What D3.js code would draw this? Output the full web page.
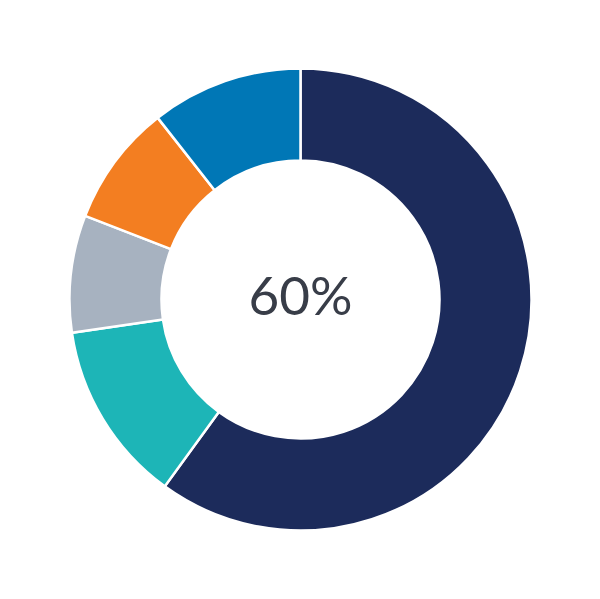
<!DOCTYPE html>
<html><head><meta charset="utf-8">
<script src="https://cdn.jsdelivr.net/npm/d3@7"></script>
<style>html,body{margin:0;padding:0;background:#fff;}</style>
</head><body>
<svg id="chart" width="600" height="599"></svg>
<script>
const categories = ["Navy", "Teal", "Gray", "Orange", "Blue"];
const values = [60, 12.7, 8.2, 8.5, 10.6];
const colors = ["#1c2b5b", "#1db5b7", "#a7b2c0", "#f37e21", "#0077b6"];
const centerLabel = "60%";

const svg = d3.select("#chart");
const g = svg.append("g").attr("transform", "translate(300.5,299.5)");
const pie = d3.pie().sort(null).value(d => d.v);
const arc = d3.arc().innerRadius(139).outerRadius(231);
const data = categories.map((c, i) => ({c, v: values[i], col: colors[i]}));
g.selectAll("path").data(pie(data)).join("path")
  .attr("d", arc)
  .attr("fill", d => d.data.col)
  .attr("stroke", "#fff")
  .attr("stroke-width", 2.5);
g.append("text").text(centerLabel)
  .attr("text-anchor", "middle")
  .attr("y", 15)
  .attr("font-family", "Lato, sans-serif")
  .attr("font-size", 53)
  .attr("fill", "#383d48");
</script>
</body></html>
